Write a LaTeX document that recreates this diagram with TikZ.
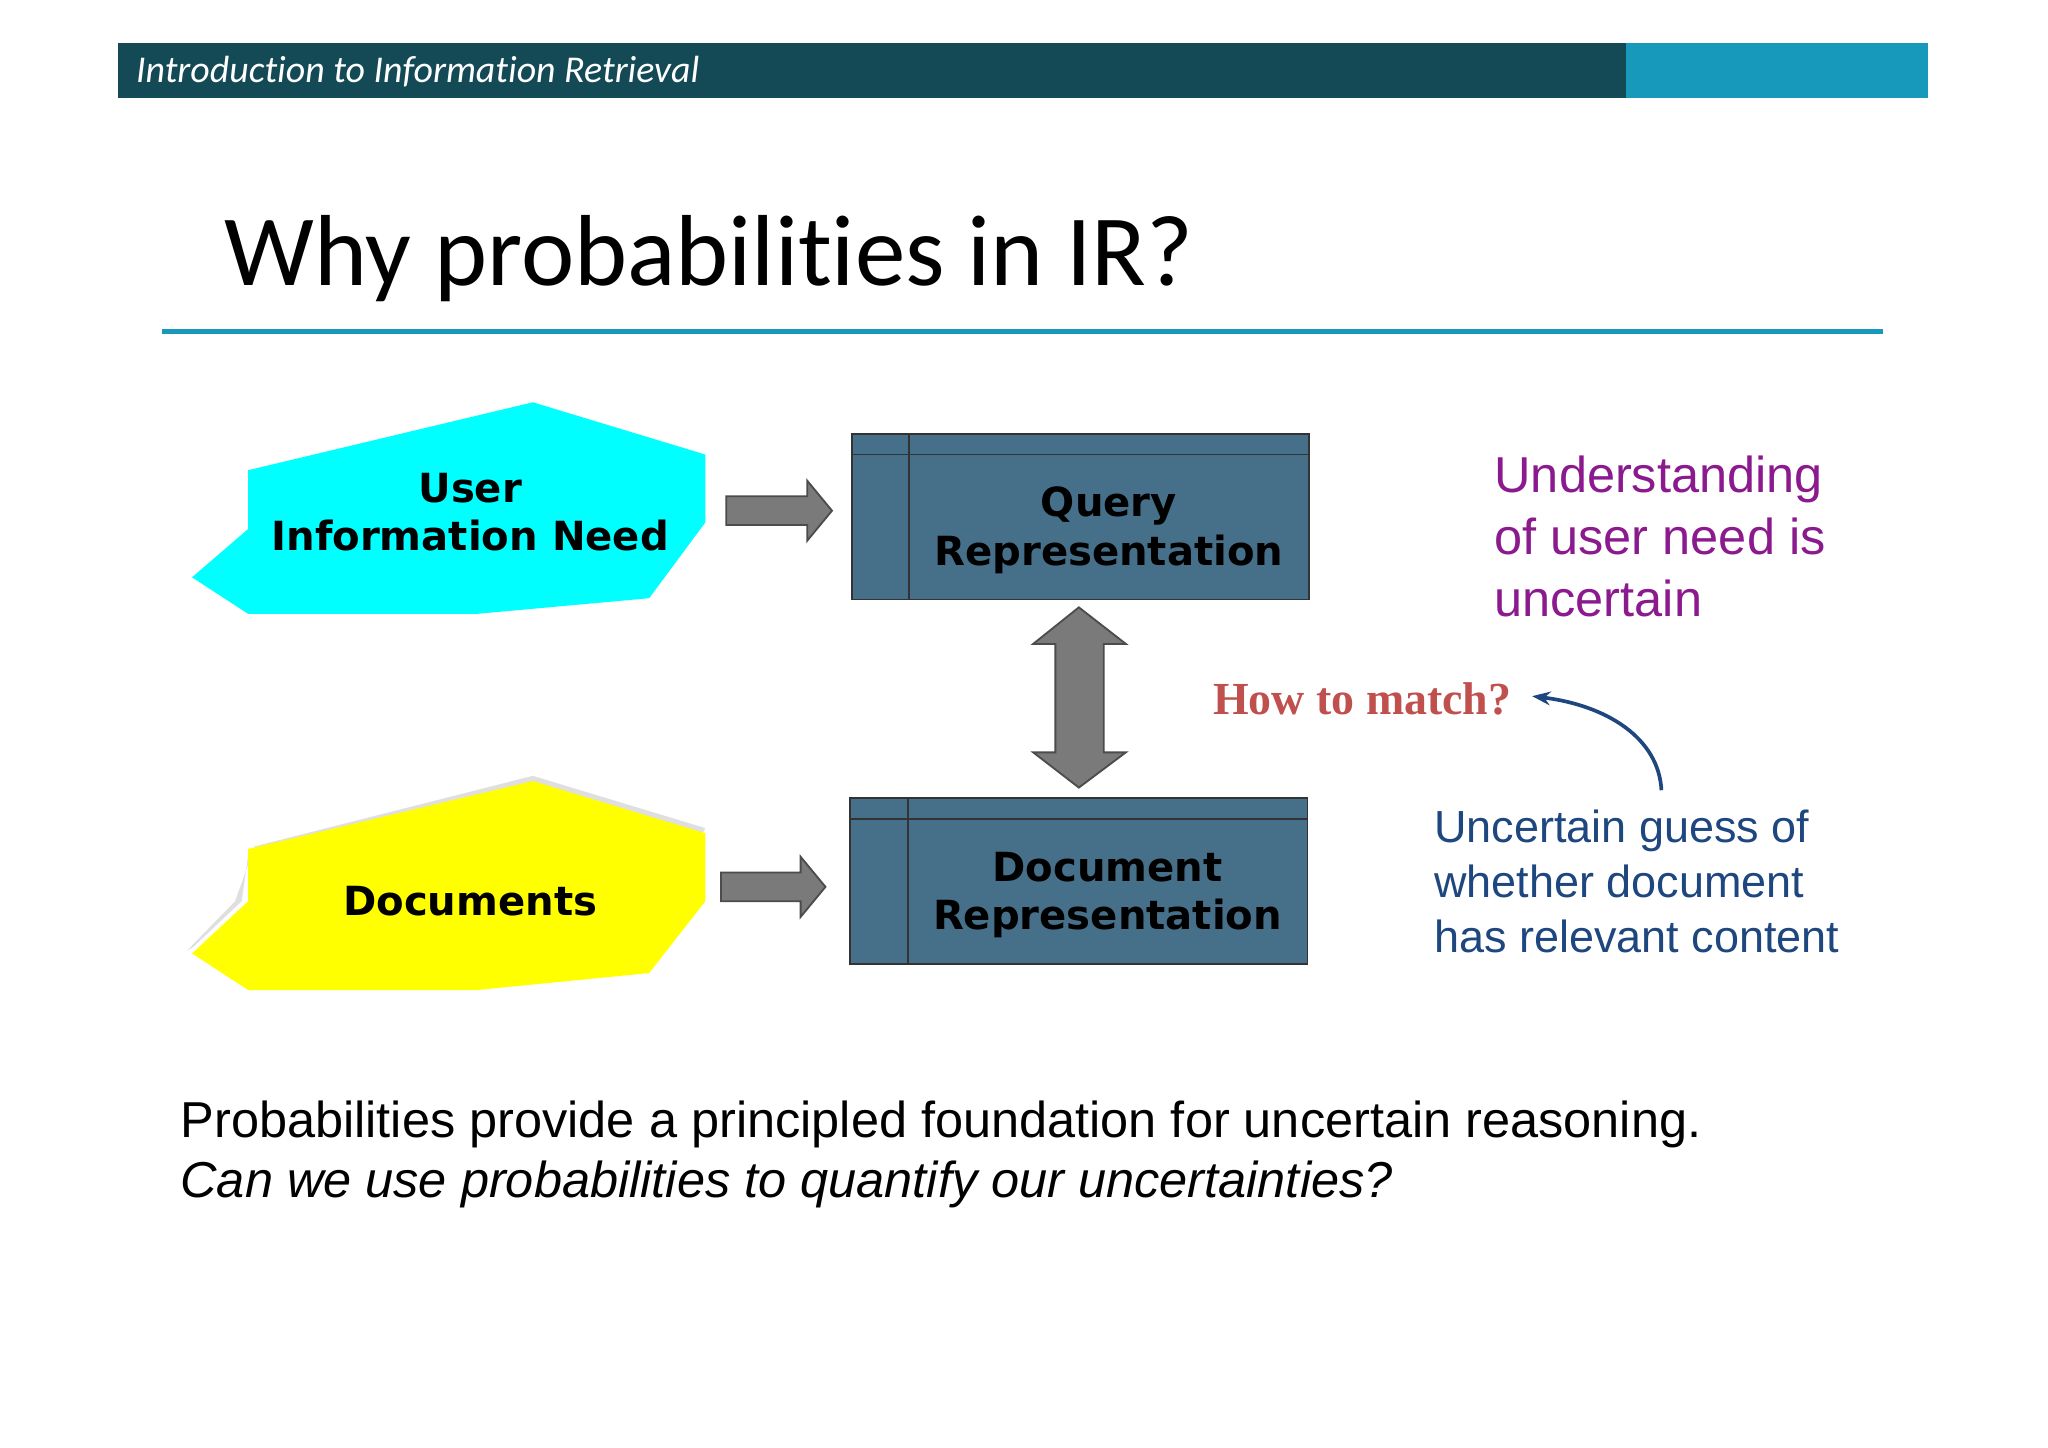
\documentclass[tikz,border=0pt]{standalone}
\usepackage{fontspec}
\setmainfont{Liberation Sans}
\newfontfamily\carlf[Ligatures={NoCommon,NoRequired,NoContextual}]{Carlito}
\newfontfamily\dvb{DejaVu Sans}
\newfontfamily\tms{Liberation Serif}
\usetikzlibrary{arrows.meta}
\definecolor{hdr}{HTML}{134A56}
\definecolor{hdrb}{HTML}{1699BB}
\definecolor{boxc}{HTML}{46708A}
\definecolor{purp}{HTML}{8B1A8F}
\definecolor{redt}{HTML}{C0504D}
\definecolor{bluet}{HTML}{1F477F}
\definecolor{cy}{HTML}{00FFFF}
\definecolor{ye}{HTML}{FFFF00}
\begin{document}
\begin{tikzpicture}[x=0.02cm,y=-0.02cm,
  blk/.style={draw=black!70,fill=gray!70!black!80,line width=0.8pt},
  lbl/.style={font=\dvb\bfseries\fontsize{17.5}{21}\selectfont,align=center},
  rep/.style={draw=black!80,fill=boxc,line width=0.8pt}]
\useasboundingbox[fill=white] (0,0) rectangle (1568,1108);
% header
\fill[hdr] (90,33) rectangle (1245,75);
\fill[hdrb] (1245,33) rectangle (1476,75);
\node[anchor=west,text=white,font=\carlf\itshape\fontsize{16.5}{18}\selectfont] (hd) at (98,55) {Introduction to Information Retrieval};
\node[anchor=west,font=\carlf\fontsize{44}{47}\selectfont] (tt) at (166,198) {Why probabilities in IR?};
\draw[hdrb,line width=2.2pt] (124,254) -- (1442,254);
% polygons
\fill[gray!25] (195,648) -- (408,594) -- (540,634) -- (537,640) -- (408,603) -- (190,655) -- (185,690) -- (148,725) -- (143,728) -- (180,690) -- cycle;
\fill[cy] (190,360) -- (408,308) -- (540,348) -- (540,400) -- (497,458) -- (365,470) -- (190,470) -- (147,442) -- (190,405) -- cycle;
\fill[ye] (190,650) -- (408,598) -- (540,638) -- (540,690) -- (497,745) -- (365,758) -- (190,758) -- (147,730) -- (190,690) -- cycle;
\node[lbl] (uin) at (360,392) {User\\Information Need};
\node[lbl] (docs) at (360,690) {Documents};
% rep boxes
\draw[rep] (652,332) rectangle (1002,459);
\draw[black!80,line width=0.8pt] (652,348) -- (1002,348) (696,332) -- (696,459);
\node[lbl] (qr) at (849,406) {Query\\Representation};
\draw[rep] (651,611) rectangle (1001,738);
\draw[black!80,line width=0.8pt] (651,627) -- (1001,627) (695,611) -- (695,738);
\node[lbl] (dr) at (848,685) {Document\\Representation};
% block arrows
\draw[blk] (556,380) -- (618,380) -- (618,368) -- (637,391) -- (618,414) -- (618,402) -- (556,402) -- cycle;
\draw[blk] (552,668) -- (613,668) -- (613,656) -- (632,679) -- (613,702) -- (613,690) -- (552,690) -- cycle;
\draw[blk] (826,465) -- (862,493) -- (845,493) -- (845,576) -- (862,576) -- (826,603) -- (791,576) -- (808,576) -- (808,493) -- (791,493) -- cycle;
% texts
\node[anchor=north west,text=purp,align=left,font=\fontsize{22}{27}\selectfont] (und) at (1138,343) {Understanding\\of user need is\\uncertain};
\node[text=redt,font=\tms\bfseries\fontsize{20}{24}\selectfont] (htm) at (1043,535) {How to match?};
\node[anchor=north west,text=bluet,align=left,font=\fontsize{19.6}{24}\selectfont] (ug) at (1092,614) {Uncertain guess of\\whether document\\has relevant content};
\coordinate (cs) at (1272,605);
\coordinate (ce) at (1173,533);
\draw[bluet,line width=1.6pt,-{Stealth[length=8pt]}] (cs) .. controls (1270,565) and (1230,540) .. (ce);
\node[anchor=west,font=\fontsize{22}{27}\selectfont] (b1) at (132,861) {Probabilities provide a principled foundation for uncertain reasoning.};
\node[anchor=west,font=\itshape\fontsize{22}{27}\selectfont] (b2) at (132,907) {Can we use probabilities to quantify our uncertainties?};
\end{tikzpicture}
\end{document}
